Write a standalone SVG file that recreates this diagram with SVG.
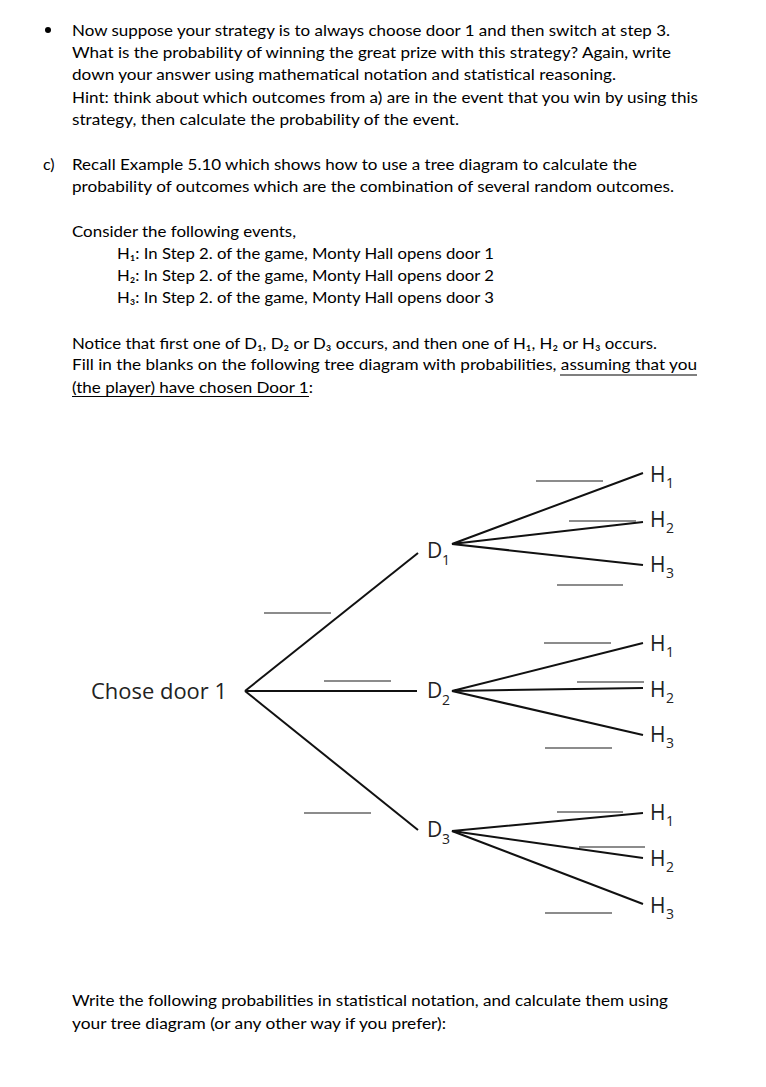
<svg xmlns="http://www.w3.org/2000/svg" width="766" height="1087" viewBox="0 0 766 1087">
<style>
.b{font-family:Lato,"Open Sans","Liberation Sans",sans-serif;font-size:16px;fill:#000}
.t{font-family:"Open Sans","Noto Sans","DejaVu Sans",sans-serif;font-size:21px;fill:#222}
.s{font-family:"Open Sans","Noto Sans","DejaVu Sans",sans-serif;font-size:14px;fill:#222}
.br{stroke:#111;stroke-width:2;fill:none;stroke-linecap:butt}
.bl{stroke:#666;stroke-width:1.4}
.ul{stroke:#000;stroke-width:1.2}
</style>
<rect width="766" height="1087" fill="#fff"/>
<g id="text-top">
<circle cx="48" cy="30" r="3" fill="#000"/>
<text class="b" x="72" y="35.5" textLength="598" lengthAdjust="spacingAndGlyphs">Now suppose your strategy is to always choose door 1 and then switch at step 3.</text>
<text class="b" x="72" y="58" textLength="599" lengthAdjust="spacingAndGlyphs">What is the probability of winning the great prize with this strategy? Again, write</text>
<text class="b" x="72" y="80" textLength="544" lengthAdjust="spacingAndGlyphs">down your answer using mathematical notation and statistical reasoning.</text>
<text class="b" x="72" y="102.5" textLength="626" lengthAdjust="spacingAndGlyphs">Hint: think about which outcomes from a) are in the event that you win by using this</text>
<text class="b" x="72" y="125" textLength="387" lengthAdjust="spacingAndGlyphs">strategy, then calculate the probability of the event.</text>
<text class="b" x="43" y="170">c)</text>
<text class="b" x="72" y="170" textLength="565" lengthAdjust="spacingAndGlyphs">Recall Example 5.10 which shows how to use a tree diagram to calculate the</text>
<text class="b" x="72" y="192" textLength="602" lengthAdjust="spacingAndGlyphs">probability of outcomes which are the combination of several random outcomes.</text>
<text class="b" x="72" y="236.5" textLength="224" lengthAdjust="spacingAndGlyphs">Consider the following events,</text>
<text class="b" x="117" y="258.5" textLength="377" lengthAdjust="spacingAndGlyphs">H₁: In Step 2. of the game, Monty Hall opens door 1</text>
<text class="b" x="117" y="281" textLength="377" lengthAdjust="spacingAndGlyphs">H₂: In Step 2. of the game, Monty Hall opens door 2</text>
<text class="b" x="117" y="303" textLength="377" lengthAdjust="spacingAndGlyphs">H₃: In Step 2. of the game, Monty Hall opens door 3</text>
<text class="b" x="72" y="348.5" textLength="585" lengthAdjust="spacingAndGlyphs">Notice that first one of D₁, D₂ or D₃ occurs, and then one of H₁, H₂ or H₃ occurs.</text>
<text class="b" x="72" y="370" textLength="625" lengthAdjust="spacingAndGlyphs">Fill in the blanks on the following tree diagram with probabilities, assuming that you</text>
<line class="ul" x1="560" y1="375" x2="697" y2="375"/>
<text class="b" x="72" y="392.5" textLength="241" lengthAdjust="spacingAndGlyphs">(the player) have chosen Door 1:</text>
<line class="ul" x1="72" y1="396.5" x2="309" y2="396.5"/>
</g>
<g id="connectors">
<line class="br" x1="245" y1="691" x2="418" y2="553"/>
<line class="br" x1="245" y1="691" x2="417" y2="691"/>
<line class="br" x1="245" y1="691" x2="418" y2="830"/>
<polyline class="br" points="643,473 452,544 643,522"/>
<line class="br" x1="452" y1="544" x2="643" y2="565"/>
<polyline class="br" points="643,643 452,691 643,688"/>
<line class="br" x1="452" y1="691" x2="643" y2="735"/>
<polyline class="br" points="643,813 452,831 643,858"/>
<line class="br" x1="452" y1="831" x2="643" y2="904"/>
</g>
<g id="blanks">
<line class="bl" x1="264" y1="613" x2="331" y2="613"/>
<line class="bl" x1="324" y1="681" x2="391" y2="681"/>
<line class="bl" x1="304" y1="813" x2="371" y2="813"/>
<line class="bl" x1="536" y1="481" x2="603" y2="481"/>
<line class="bl" x1="569" y1="521" x2="636" y2="521"/>
<line class="bl" x1="557" y1="585" x2="623" y2="585"/>
<line class="bl" x1="544" y1="643" x2="611" y2="643"/>
<line class="bl" x1="577" y1="682" x2="644" y2="682"/>
<line class="bl" x1="545" y1="748" x2="612" y2="748"/>
<line class="bl" x1="557" y1="812" x2="623" y2="812"/>
<line class="bl" x1="579" y1="847" x2="645" y2="847"/>
<line class="bl" x1="545" y1="913" x2="612" y2="913"/>
</g>
<g id="root"><text class="t" x="91" y="698.5" textLength="136" lengthAdjust="spacingAndGlyphs">Chose door 1</text></g>
<g id="D1"><text class="t" x="427" y="558">D</text><text class="s" x="442" y="565">1</text></g>
<g id="D2"><text class="t" x="427" y="698">D</text><text class="s" x="442" y="705">2</text></g>
<g id="D3"><text class="t" x="427" y="837">D</text><text class="s" x="442" y="844">3</text></g>
<g id="D1-H1"><text class="t" x="650" y="482">H</text><text class="s" x="666" y="488">1</text></g>
<g id="D1-H2"><text class="t" x="650" y="527">H</text><text class="s" x="666" y="533">2</text></g>
<g id="D1-H3"><text class="t" x="650" y="572">H</text><text class="s" x="666" y="578">3</text></g>
<g id="D2-H1"><text class="t" x="650" y="651">H</text><text class="s" x="666" y="657">1</text></g>
<g id="D2-H2"><text class="t" x="650" y="697">H</text><text class="s" x="666" y="703">2</text></g>
<g id="D2-H3"><text class="t" x="650" y="742">H</text><text class="s" x="666" y="748">3</text></g>
<g id="D3-H1"><text class="t" x="650" y="820">H</text><text class="s" x="666" y="826">1</text></g>
<g id="D3-H2"><text class="t" x="650" y="866">H</text><text class="s" x="666" y="872">2</text></g>
<g id="D3-H3"><text class="t" x="650" y="913">H</text><text class="s" x="666" y="919">3</text></g>
<g id="text-bottom">
<text class="b" x="72" y="1005.5" textLength="596" lengthAdjust="spacingAndGlyphs">Write the following probabilities in statistical notation, and calculate them using</text>
<text class="b" x="72" y="1029" textLength="374" lengthAdjust="spacingAndGlyphs">your tree diagram (or any other way if you prefer):</text>
</g>
</svg>
